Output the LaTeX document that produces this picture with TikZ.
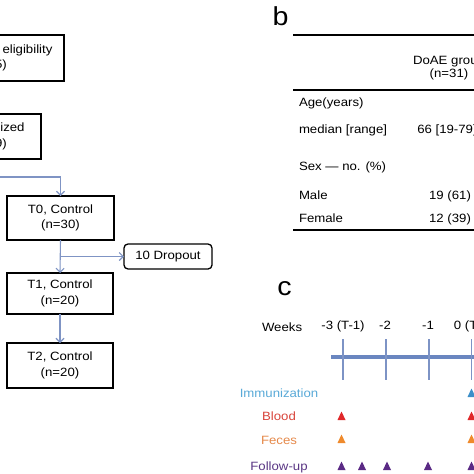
\documentclass[tikz,border=0pt]{standalone}
\usepackage{fontspec}
\setmainfont{Liberation Sans}[FakeStretch=1.1]
\usetikzlibrary{arrows.meta}
\definecolor{conn}{HTML}{7F94C4}
\definecolor{axis}{HTML}{6A86C0}
\definecolor{tick}{HTML}{7D93C5}
\definecolor{immuT}{HTML}{5AAAD8}
\definecolor{immuF}{HTML}{3C8FC9}
\definecolor{bloodT}{HTML}{D9453C}
\definecolor{bloodF}{HTML}{E0282A}
\definecolor{fecesT}{HTML}{E6894A}
\definecolor{fecesF}{HTML}{EF8A2C}
\definecolor{followT}{HTML}{5B3785}
\definecolor{followF}{HTML}{5A2A85}
\begin{document}
\begin{tikzpicture}[x=1pt,y=-1pt,
  every node/.style={font=\fontsize{12}{15.5}\selectfont, inner sep=0pt, outer sep=0pt},
  box/.style={draw=black, line width=1.6pt, align=center},
  dropbox/.style={draw=black, line width=1.3pt, rounded corners=4pt, align=center},
  link/.style={draw=conn, line width=1.1pt, -{Straight Barb[length=4pt,width=8pt]}},
  rule/.style={draw=black, line width=1.5pt},
  panel/.style={font=\fontsize{26}{30}\selectfont, anchor=base},
  lab/.style={anchor=base west},
  val/.style={anchor=base},
  tickln/.style={draw=tick, line width=1.3pt},
  tri/.style={fill=#1, draw=none}
]
\useasboundingbox (0,0) rectangle (474,474);
\clip (0,0) rectangle (474,474);
\fill[white] (0,0) rectangle (474,474);

% ---------- panel a ----------
\node[box, minimum width=153pt, minimum height=46pt] (elig) at (-12.5,58) {Assessed for eligibility\\(n=35)};
\node[box, minimum width=107pt, minimum height=45pt] (rand) at (-12.5,136.5) {Randomized\\(n=39)};
\node[box, minimum width=107pt, minimum height=44pt] (t0) at (60.5,218) {T0, Control\\(n=30)};
\node[box, minimum width=106pt, minimum height=41pt] (t1) at (60,293.5) {T1, Control\\(n=20)};
\node[box, minimum width=106pt, minimum height=45pt] (t2) at (60,365.5) {T2, Control\\(n=20)};
\node[dropbox, minimum width=88pt, minimum height=25pt] (drop) at (168,256.5) {10 Dropout};

\draw[link] (rand.south) -- ++(0,18) -| (t0.north);
\draw[link] (t0.south) -- (t1.north);
\coordinate (br) at (t0.south |- drop.west);
\draw[link] (br) -- (drop.west);
\draw[link] (t1.south) -- (t2.north);

% ---------- panel b ----------
\node[panel] (lb) at (280.5,25) {b};
\coordinate (r1a) at (293,35);  \coordinate (r1b) at (480,35);
\coordinate (r2a) at (293,90);  \coordinate (r2b) at (480,90);
\coordinate (r3a) at (293,230); \coordinate (r3b) at (480,230);
\draw[rule, line width=1.6pt] (r1a) -- (r1b);
\draw[rule, line width=1.3pt] (r2a) -- (r2b);
\draw[rule, line width=1.6pt] (r3a) -- (r3b);
\node[val] (h1) at (449,64) {DoAE group};
\node[val] (h2) at (449,77.5) {(n=31)};
\node[lab] (age) at (299,106) {Age(years)};
\node[lab] (med) at (299,133) {median [range]};
\node[val] (medv) at (447,133) {66 [19-79]};
\node[lab] (sex) at (299,170) {Sex — no. (\%)};
\node[lab] (male) at (299,199) {Male};
\node[val] (malev) at (450,199) {19 (61)};
\node[lab] (fem) at (299,222.5) {Female};
\node[val] (femv) at (450,222.5) {12 (39)};

% ---------- panel c ----------
\node[panel] (lc) at (284.5,295) {c};
\node[lab] (weeks) at (262,331) {Weeks};
\node[val] (w3) at (343,329) {-3 (T-1)};
\node[val] (w2) at (385,329) {-2};
\node[val] (w1) at (428,329) {-1};
\node[val] (w0) at (471.5,329) {0 (T0)};
\coordinate (ax0) at (331,357); \coordinate (ax1) at (480,357);
\draw[draw=axis, line width=3.2pt] (ax0) -- (ax1);
\foreach \x in {343,386,429,471.5} {
  \draw[tickln] (\x,339) -- (\x,380);
}
\node[val, text=immuT] (rimm) at (279,397) {Immunization};
\node[val, text=bloodT] (rblood) at (279,420) {Blood};
\node[val, text=fecesT] (rfeces) at (279,444) {Feces};
\node[val, text=followT] (rfollow) at (279,470) {Follow-up};

\foreach \x/\y/\c in {471.5/397/immuF,
                      341.5/420/bloodF, 471.5/420/bloodF,
                      341.5/443/fecesF, 471.5/443/fecesF,
                      341.5/470/followF, 362/470/followF, 387/470/followF, 428/470/followF, 471.5/470/followF} {
  \fill[tri=\c] (\x-4,\y) -- (\x+4,\y) -- (\x,\y-8.5) -- cycle;
}
\end{tikzpicture}
\end{document}
